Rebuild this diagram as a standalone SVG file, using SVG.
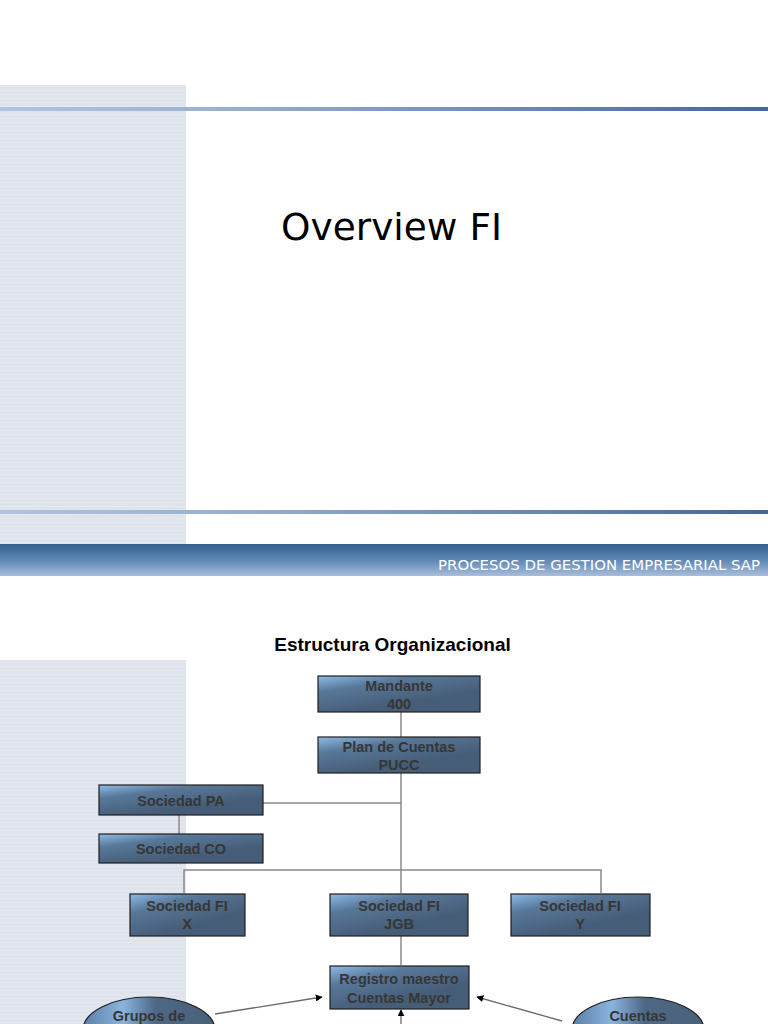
<svg xmlns="http://www.w3.org/2000/svg" width="768" height="1024" viewBox="0 0 768 1024">
<defs>
  <pattern id="stripes" width="186" height="4" patternUnits="userSpaceOnUse">
    <rect width="186" height="4" fill="#dfe4ec"/>
    <rect y="2" width="186" height="1" fill="#e6eaf0"/>
  </pattern>
  <linearGradient id="hline" x1="0" y1="0" x2="1" y2="0">
    <stop offset="0" stop-color="#b2c3e0"/>
    <stop offset="0.3" stop-color="#98b0d0"/>
    <stop offset="1" stop-color="#456897"/>
  </linearGradient>
  <linearGradient id="footer" x1="0" y1="0" x2="0" y2="1">
    <stop offset="0" stop-color="#35608f"/>
    <stop offset="0.5" stop-color="#5f86b5"/>
    <stop offset="1" stop-color="#a8bedb"/>
  </linearGradient>
  <linearGradient id="node" x1="0" y1="0" x2="0.55" y2="0.75">
    <stop offset="0" stop-color="#8fbbe8"/>
    <stop offset="0.4" stop-color="#587899"/>
    <stop offset="1" stop-color="#465d78"/>
  </linearGradient>
  <linearGradient id="ell" x1="0" y1="0" x2="1" y2="0">
    <stop offset="0" stop-color="#5c7fa6"/>
    <stop offset="0.3" stop-color="#8ab4de"/>
    <stop offset="0.55" stop-color="#4d6886"/>
    <stop offset="1" stop-color="#4a6079"/>
  </linearGradient>
  <marker id="arr" viewBox="0 0 10 10" refX="9" refY="5" markerWidth="7" markerHeight="7" orient="auto" markerUnits="userSpaceOnUse">
    <path d="M0,0 L10,5 L0,10 z" fill="#000"/>
  </marker>
  <style>
    .box { fill: url(#node); stroke: #1e1e1e; stroke-width: 1.2; }
    .ell { fill: url(#ell); stroke: #1e1e1e; stroke-width: 1.2; }
    .lbl { font-family: "Liberation Sans", Arial, sans-serif; font-weight: bold; font-size: 14.5px; fill: #363636; text-anchor: middle; }
    .con { stroke: #8a8a8a; stroke-width: 1.5; fill: none; }
    .arw { stroke: #6a6a6a; stroke-width: 1.3; fill: none; marker-end: url(#arr); }
  </style>
</defs>
<rect width="768" height="1024" fill="#ffffff"/>

<!-- Slide 1 -->
<rect x="0" y="85" width="186" height="459" fill="url(#stripes)"/>
<rect x="0" y="107" width="768" height="4" fill="url(#hline)"/>
<rect x="0" y="510" width="768" height="4" fill="url(#hline)"/>
<rect x="0" y="544" width="768" height="32" fill="url(#footer)"/>
<text x="281" y="240" font-family="DejaVu Sans, sans-serif" font-size="37.5" fill="#000" textLength="221" lengthAdjust="spacingAndGlyphs">Overview FI</text>
<text x="760" y="570" font-family="DejaVu Sans Condensed, DejaVu Sans, sans-serif" font-size="14.5" fill="#ffffff" text-anchor="end" textLength="322" lengthAdjust="spacingAndGlyphs">PROCESOS DE GESTION EMPRESARIAL SAP</text>

<!-- Slide 2 -->
<rect x="0" y="660" width="186" height="364" fill="url(#stripes)"/>
<text x="392.5" y="651" font-family="Liberation Sans, Arial, sans-serif" font-weight="bold" font-size="19" fill="#000" text-anchor="middle">Estructura Organizacional</text>

<g id="connectors">
  <line class="con" x1="401" y1="712" x2="401" y2="737"/>
  <line class="con" x1="401" y1="773" x2="401" y2="893"/>
  <line class="con" x1="263" y1="803" x2="401" y2="803"/>
  <line class="con" x1="179" y1="815" x2="179" y2="834" stroke="#333"/>
  <polyline class="con" points="184,893 184,870 601,870 601,893"/>
  <line class="con" x1="401" y1="936" x2="401" y2="965"/>
  <line class="arw" x1="401" y1="1024" x2="401" y2="1010"/>
  <line class="arw" x1="215" y1="1014" x2="322" y2="997"/>
  <line class="arw" x1="562" y1="1021" x2="477" y2="997"/>
</g>

<g id="mandante">
  <rect class="box" x="318" y="676" width="162" height="36"/>
  <text class="lbl" x="399" y="691">Mandante</text>
  <text class="lbl" x="399" y="709">400</text>
</g>
<g id="plan">
  <rect class="box" x="318" y="737" width="162" height="36"/>
  <text class="lbl" x="399" y="752">Plan de Cuentas</text>
  <text class="lbl" x="399" y="770">PUCC</text>
</g>
<g id="sociedad-pa">
  <rect class="box" x="99" y="785" width="164" height="30"/>
  <text class="lbl" x="181" y="806">Sociedad PA</text>
</g>
<g id="sociedad-co">
  <rect class="box" x="99" y="834" width="164" height="29"/>
  <text class="lbl" x="181" y="854">Sociedad CO</text>
</g>
<g id="fi-x">
  <rect class="box" x="130" y="894" width="115" height="42"/>
  <text class="lbl" x="187" y="911">Sociedad FI</text>
  <text class="lbl" x="187" y="929">X</text>
</g>
<g id="fi-jgb">
  <rect class="box" x="330" y="894" width="138" height="42"/>
  <text class="lbl" x="399" y="911">Sociedad FI</text>
  <text class="lbl" x="399" y="929">JGB</text>
</g>
<g id="fi-y">
  <rect class="box" x="511" y="894" width="139" height="42"/>
  <text class="lbl" x="580" y="911">Sociedad FI</text>
  <text class="lbl" x="580" y="929">Y</text>
</g>
<g id="registro">
  <rect class="box" x="330" y="966" width="139" height="43"/>
  <text class="lbl" x="399" y="984">Registro maestro</text>
  <text class="lbl" x="399" y="1003">Cuentas Mayor</text>
</g>
<g id="grupos">
  <ellipse class="ell" cx="149" cy="1030" rx="66" ry="33"/>
  <text class="lbl" x="149" y="1021" font-size="13">Grupos de</text>
</g>
<g id="cuentas">
  <ellipse class="ell" cx="638" cy="1030" rx="66" ry="33"/>
  <text class="lbl" x="638" y="1021" font-size="13">Cuentas</text>
</g>
</svg>
